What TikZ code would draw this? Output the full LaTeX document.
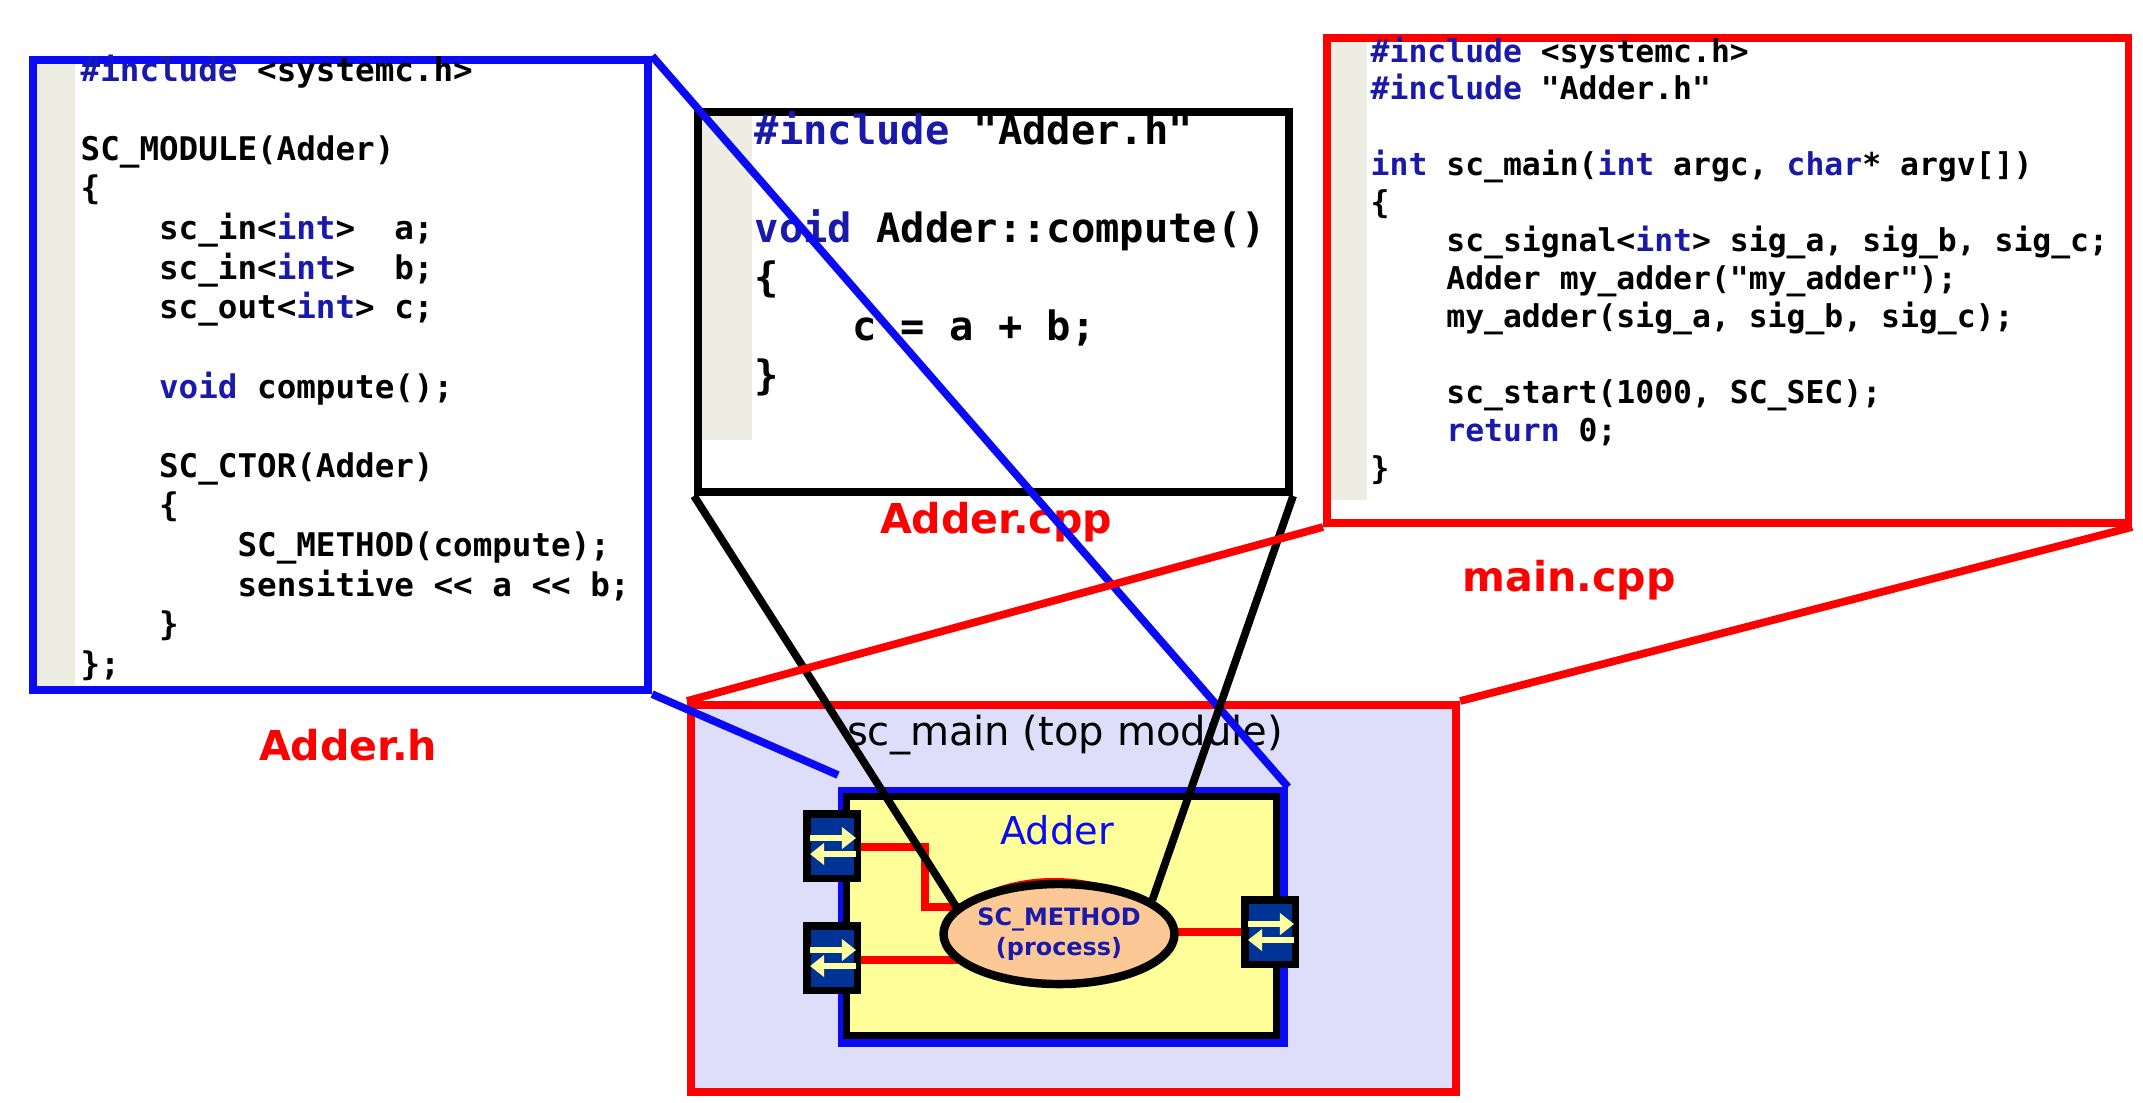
\documentclass[tikz,border=0pt]{standalone}
\usepackage{fontspec}
\setmainfont{DejaVu Sans}
\newfontfamily\codefont{DejaVu Sans Mono}
\usetikzlibrary{shapes.geometric,arrows.meta,calc}
\definecolor{kwblue}{RGB}{26,26,170}
\definecolor{bxblue}{RGB}{10,10,245}
\definecolor{lav}{RGB}{222,222,250}
\definecolor{yel}{RGB}{255,255,153}
\definecolor{peach}{RGB}{252,200,150}
\definecolor{navy}{RGB}{0,51,150}
\definecolor{gutter}{RGB}{238,237,228}
\definecolor{portyel}{RGB}{255,255,160}
\newcommand\kw[1]{\textcolor{kwblue}{#1}}
\newcommand\ind[1]{\hspace*{#1\fontcharwd\font`a}}
\begin{document}
\begin{tikzpicture}[x=0.01cm,y=-0.01cm,
  box/.style={draw=#1,line width=2.2pt,rectangle,inner sep=0pt,anchor=north west},
  conn/.style={draw=#1,line width=2.2pt},
  code/.style={inner sep=0pt,anchor=base west,font=\codefont\bfseries},
  lbl/.style={text=red,font=\bfseries\fontsize{11.7pt}{14pt}\selectfont},
  port/.style={draw=black,line width=2pt,fill=navy,minimum width=0.5cm,minimum height=0.64cm,inner sep=0pt},
  parr/.style={draw=portyel,line width=1.6pt,-{Triangle[length=4pt,width=6pt]}},
  wire/.style={draw=red,line width=2.4pt}]
\useasboundingbox (0,0) rectangle (2143,1102);
% code boxes
\fill[gutter] (29,56) rectangle (75,686);
\node[box=bxblue,minimum width=6.15cm,minimum height=6.30cm] (hbox) at (29,56) {};
\fill[gutter] (694,108) rectangle (752,440);
\node[box=black,minimum width=5.91cm,minimum height=3.80cm] (cbox) at (694,108) {};
\fill[gutter] (1323,34) rectangle (1367,500);
\node[box=red,minimum width=8.01cm,minimum height=4.85cm] (mbox) at (1323,34) {};
% code texts
\node[code] (hcode) at (80,81) {\fontsize{9.26pt}{11.27pt}\selectfont\renewcommand\arraystretch{1}%
\begin{tabular}[t]{@{}l@{}}
\kw{\#include} <systemc.h>\\
\\
SC\_MODULE(Adder)\\
\{\\
\ind{4}sc\_in<\kw{int}>\ \ a;\\
\ind{4}sc\_in<\kw{int}>\ \ b;\\
\ind{4}sc\_out<\kw{int}> c;\\
\\
\ind{4}\kw{void} compute();\\
\\
\ind{4}SC\_CTOR(Adder)\\
\ind{4}\{\\
\ind{8}SC\_METHOD(compute);\\
\ind{8}sensitive << a << b;\\
\ind{4}\}\\
\};
\end{tabular}};
\node[code] (ccode) at (754,144) {\fontsize{11.5pt}{13.95pt}\selectfont\renewcommand\arraystretch{1}%
\begin{tabular}[t]{@{}l@{}}
\kw{\#include} "Adder.h"\\
\\
\kw{void} Adder::compute()\\
\{\\
\ind{4}c = a + b;\\
\}
\end{tabular}};
\node[code] (mcode) at (1370,62) {\fontsize{8.93pt}{10.8pt}\selectfont\renewcommand\arraystretch{1}%
\begin{tabular}[t]{@{}l@{}}
\kw{\#include} <systemc.h>\\
\kw{\#include} "Adder.h"\\
\\
\kw{int} sc\_main(\kw{int} argc, \kw{char}* argv[])\\
\{\\
\ind{4}sc\_signal<\kw{int}> sig\_a, sig\_b, sig\_c;\\
\ind{4}Adder my\_adder("my\_adder");\\
\ind{4}my\_adder(sig\_a, sig\_b, sig\_c);\\
\\
\ind{4}sc\_start(1000, SC\_SEC);\\
\ind{4}\kw{return} 0;\\
\}
\end{tabular}};
% labels
\node[lbl] (hl) at (348,745) {Adder.h};
\node[lbl] (cl) at (996,522) {Adder.cpp};
\node[lbl] (ml) at (1569,580) {main.cpp};
% top module
\node[box=red,fill=lav,minimum width=7.65cm,minimum height=3.87cm] (top) at (687,701) {};
\node[font=\fontsize{11.4pt}{13pt}\selectfont] (toplbl) at (1065,735) {sc\_main (top module)};
\node[box=bxblue,minimum width=4.42cm,minimum height=2.52cm] (abox) at (838,787) {};
\node[box=black,fill=yel,line width=2pt,minimum width=4.30cm,minimum height=2.39cm] (ybox) at (843,793) {};
\node[text=bxblue,font=\fontsize{10.9pt}{13pt}\selectfont] (albl) at (1057,830) {Adder};
% wires
\draw[wire] (860,847) -- (925,847) -- (925,907) -- (1000,907);
\draw[wire] (860,960) -- (1000,960);
\draw[wire] (1100,932) -- (1245,932);
% ellipse
\fill[red] (1054,930) ellipse (1.0cm and 0.52cm);
\node[ellipse,draw=black,line width=2.4pt,fill=peach,minimum width=1.96cm,minimum height=1.0cm,inner sep=0pt,align=center,text=kwblue,font=\bfseries\fontsize{6.8pt}{8.4pt}\selectfont] (meth) at (1059,934) {SC\_METHOD\\(process)};
% ports
\foreach \n/\px/\py in {p1/832/846,p2/832/958,p3/1270/932}{
  \node[port] (\n) at (\px,\py) {};
  \draw[parr] ($(\n.center)+(-22,-8)$) -- ($(\n.center)+(24,-8)$);
  \draw[parr] ($(\n.center)+(24,8)$) -- ($(\n.center)+(-22,8)$);
}
% connectors
\draw[conn=bxblue] (hbox.north east) -- (abox.north east);
\draw[conn=bxblue] (hbox.south east) -- ($(abox.north west)+(0,-12)$);
\draw[conn=black] (cbox.south west) -- (meth.165);
\draw[conn=black] (cbox.south east) -- (meth.20);
\draw[conn=red] (mbox.south west) -- (top.north west);
\draw[conn=red] (mbox.south east) -- (top.north east);
\end{tikzpicture}
\end{document}
